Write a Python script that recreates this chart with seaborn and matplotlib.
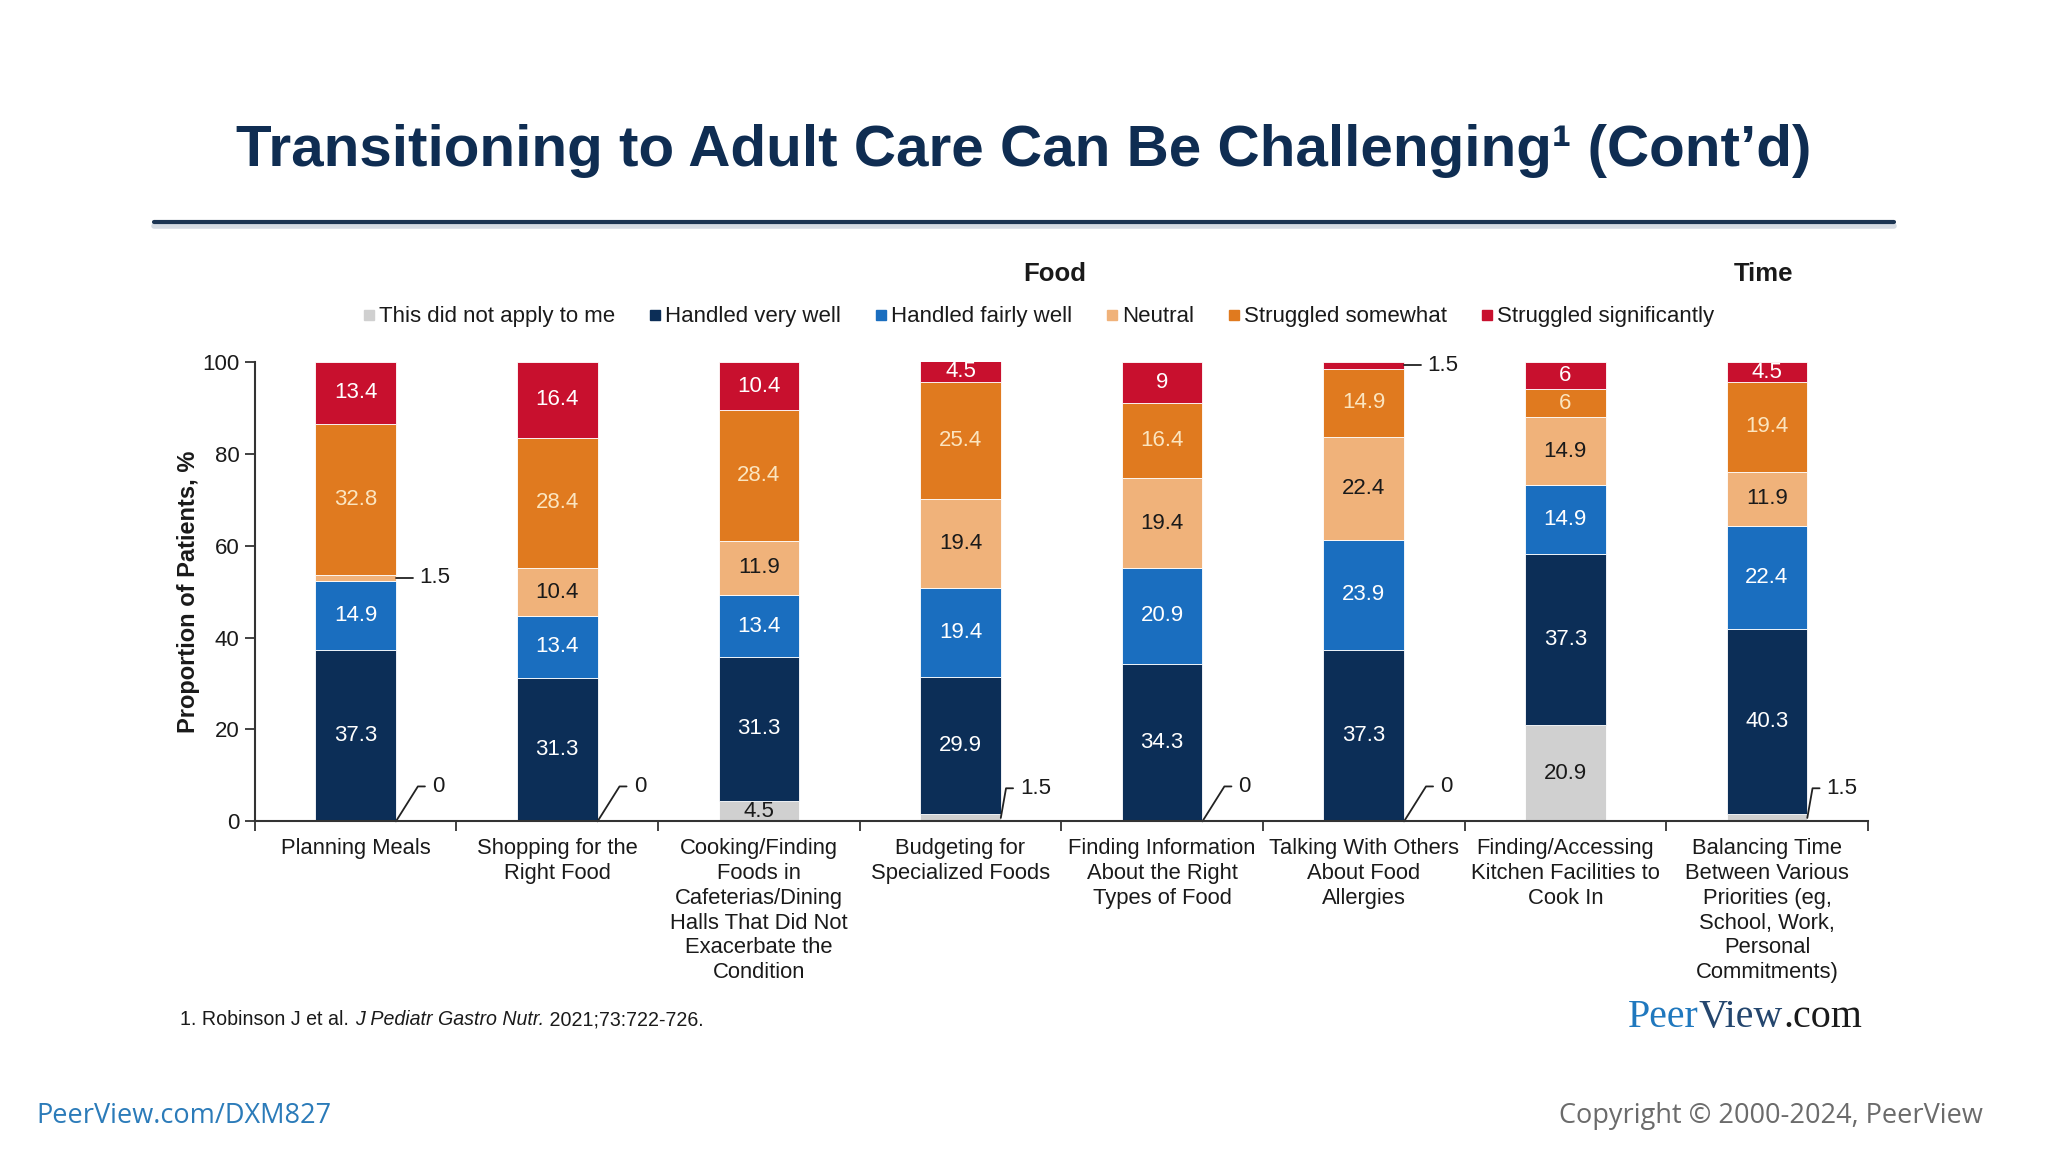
import numpy as np
import pandas as pd
import matplotlib
matplotlib.use('Agg')
import matplotlib.pyplot as plt
from matplotlib.lines import Line2D
from matplotlib.ticker import FixedLocator
import seaborn as sns

# datos (porcentaje de pacientes)
categorias = [
    'Planning Meals',
    'Shopping for the\nRight Food',
    'Cooking/Finding\nFoods in\nCafeterias/Dining\nHalls That Did Not\nExacerbate the\nCondition',
    'Budgeting for\nSpecialized Foods',
    'Finding Information\nAbout the Right\nTypes of Food',
    'Talking With Others\nAbout Food\nAllergies',
    'Finding/Accessing\nKitchen Facilities to\nCook In',
    'Balancing Time\nBetween Various\nPriorities (eg,\nSchool, Work,\nPersonal\nCommitments)',
]
respuestas = ['This did not apply to me', 'Handled very well', 'Handled fairly well',
              'Neutral', 'Struggled somewhat', 'Struggled significantly']

no_aplica = [0, 0, 4.5, 1.5, 0, 0, 20.9, 1.5]
muy_bien = [37.3, 31.3, 31.3, 29.9, 34.3, 37.3, 37.3, 40.3]
bastante_bien = [14.9, 13.4, 13.4, 19.4, 20.9, 23.9, 14.9, 22.4]
neutral = [1.5, 10.4, 11.9, 19.4, 19.4, 22.4, 14.9, 11.9]
algo_dificil = [32.8, 28.4, 28.4, 25.4, 16.4, 14.9, 6, 19.4]
muy_dificil = [13.4, 16.4, 10.4, 4.5, 9, 1.5, 6, 4.5]

valores = [no_aplica, muy_bien, bastante_bien, neutral, algo_dificil, muy_dificil]

colores = ['#D0D0D0', '#0C2E57', '#1A6EBF', '#F0B27A', '#E07A1F', '#C8102E']
color_texto = ['#1a1a1a', 'white', 'white', '#1a1a1a', '#FBE5C0', 'white']

# tabla larga para seaborn
filas = []
for resp, vals in zip(respuestas, valores):
    for cat, v in zip(categorias, vals):
        filas.append({'Categoria': cat, 'Respuesta': resp, 'Valor': v})
df = pd.DataFrame(filas)

sns.set_style('ticks')
plt.rcParams['font.family'] = ['Liberation Sans', 'DejaVu Sans']

fig = plt.figure(figsize=(20.48, 11.52), dpi=100)
ax = fig.add_axes([0.1244, 0.287, 0.7876, 0.399])

ANCHO = 0.4
base = np.zeros(len(categorias))
for resp, col in zip(respuestas, colores):
    sub = df[df['Respuesta'] == resp]
    sns.barplot(data=sub, x='Categoria', y='Valor', order=categorias, color=col,
                saturation=1, errorbar=None, width=ANCHO, bottom=base,
                edgecolor='white', linewidth=0.6, ax=ax)
    base = base + sub['Valor'].to_numpy()

# etiquetas de valor
xs = np.arange(len(categorias))
fs_val = 16
acum = np.zeros(len(categorias))
for j, (vals, tc) in enumerate(zip(valores, color_texto)):
    for i, v in enumerate(vals):
        centro = acum[i] + v / 2
        borde = xs[i] + ANCHO / 2
        if v >= 3:
            ax.text(xs[i], centro, f'{v:g}', ha='center', va='center',
                    color=tc, fontsize=fs_val)
        elif j == 0:
            # linea diagonal desde la base
            dx = 0.109 if v == 0 else 0.026
            y1 = 7.6 if v == 0 else 7.2
            ax.plot([borde, borde + dx, borde + dx + 0.035], [centro, y1, y1],
                    color='#222222', lw=1.3, clip_on=False)
            ax.text(borde + dx + 0.07, y1, f'{v:g}', ha='left', va='center',
                    color='#1a1a1a', fontsize=fs_val)
        else:
            ax.plot([borde, borde + 0.084], [centro, centro],
                    color='#222222', lw=1.3, clip_on=False)
            ax.text(borde + 0.115, centro, f'{v:g}', ha='left', va='center',
                    color='#1a1a1a', fontsize=fs_val)
    acum = acum + np.array(vals)

# ejes
ax.set_xlim(-0.5, len(categorias) - 0.5)
ax.set_ylim(0, 100)
ax.set_yticks(range(0, 101, 20))
ax.set_xticks(xs)
ax.set_xticklabels(categorias, fontsize=15.8, color='#1a1a1a')
for t in ax.get_xticklabels():
    t.set_linespacing(1.24)
ax.xaxis.set_minor_locator(FixedLocator(np.arange(-0.5, len(categorias), 1)))
ax.tick_params(axis='x', which='major', length=0, pad=12)
ax.tick_params(axis='x', which='minor', length=7, width=1.3, color='#333333', direction='out')
ax.tick_params(axis='y', labelsize=16, length=7, width=1.3, color='#333333',
               labelcolor='#1a1a1a', pad=4)
ax.set_xlabel('')
ax.set_ylabel('Proportion of Patients, %', fontsize=17, fontweight='bold', color='#1a1a1a')
ax.yaxis.set_label_coords(-0.034, 0.5)
sns.despine(ax=ax)
for lado in ['left', 'bottom']:
    ax.spines[lado].set_linewidth(1.5)
    ax.spines[lado].set_color('#333333')

# leyenda
handles = [Line2D([0], [0], marker='s', linestyle='', markersize=7,
                  markerfacecolor=c, markeredgecolor=c) for c in colores]
fig.legend(handles, respuestas, loc='center', bbox_to_anchor=(0.507, 0.725),
           ncol=6, frameon=False, fontsize=16, handlelength=0.6,
           handletextpad=0.15, columnspacing=1.5, labelcolor='#1a1a1a')

# titulo y encabezados
fig.text(0.5, 0.869, 'Transitioning to Adult Care Can Be Challenging\u00b9 (Cont\u2019d)',
         ha='center', va='center', fontsize=42, fontweight='bold', color='#0f2d52')
fig.add_artist(Line2D([0.075, 0.925], [0.804, 0.804], color='#d5dbe3', lw=4))
fig.add_artist(Line2D([0.075, 0.925], [0.807, 0.807], color='#1c3553', lw=3))
fig.text(0.515, 0.762, 'Food', ha='center', va='center', fontsize=18.5,
         fontweight='bold', color='#1a1a1a')
fig.text(0.861, 0.762, 'Time', ha='center', va='center', fontsize=18.5,
         fontweight='bold', color='#1a1a1a')

# textos en secuencia (partes con estilos distintos)
renderer = fig.canvas.get_renderer()


def texto_seguido(x, y, partes, **kw):
    for txt, estilo in partes:
        t = fig.text(x, y, txt, **{**kw, **estilo})
        bb = t.get_window_extent(renderer=renderer)
        x = x + bb.width / fig.bbox.width


texto_seguido(0.088, 0.115, [('1. Robinson J et al. ', {}),
                             ('J Pediatr Gastro Nutr.', {'style': 'italic'}),
                             (' 2021;73:722-726.', {})],
              fontsize=14.1, color='#1a1a1a', va='center')

texto_seguido(0.795, 0.117, [('Peer', {'color': '#1f78be'}),
                             ('View', {'color': '#24466e'}),
                             ('.com', {'color': '#1a1a1a'})],
              fontsize=28.8, family=['Liberation Serif', 'DejaVu Serif'], va='center')

fig.text(0.018, 0.031, 'PeerView.com/DXM827', ha='left', va='center', fontsize=19.5,
         color='#2b7bb9', family=['Open Sans', 'DejaVu Sans'])
fig.text(0.968, 0.031, 'Copyright \u00a9 2000-2024, PeerView', ha='right', va='center',
         fontsize=19.5, color='#6b6b6b', family=['Open Sans', 'DejaVu Sans'])

fig.savefig('out.png', dpi=100)
